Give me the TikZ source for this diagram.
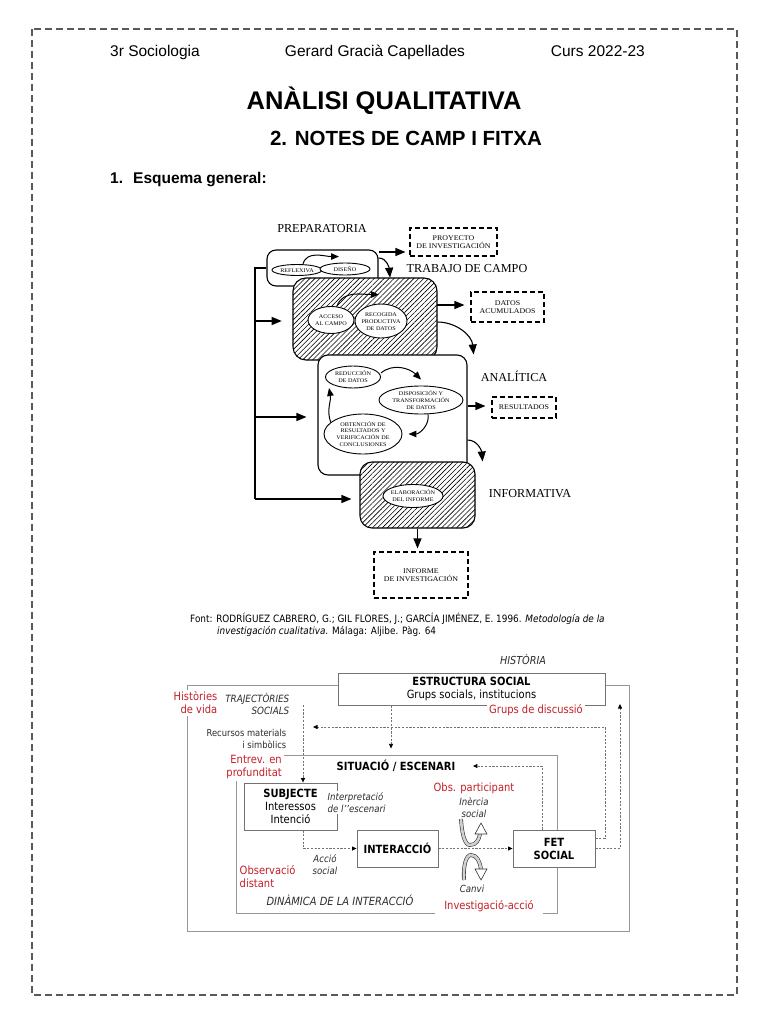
\documentclass[tikz,border=0pt]{standalone}
\usepackage{fontspec}
\setmainfont{Liberation Sans}
\newfontfamily\serf{Liberation Serif}
\newfontfamily\serw{Liberation Serif}[FakeStretch=1.1]
\newfontfamily\tah{DejaVu Sans}[FakeStretch=0.88]
\usetikzlibrary{arrows.meta,patterns.meta,shapes.geometric,calc}
\definecolor{redt}{RGB}{196,32,39}
\definecolor{frm}{RGB}{150,150,150}
\definecolor{dsh}{RGB}{115,115,115}
\definecolor{txtg}{RGB}{45,45,45}
\newcommand\ctext[1]{\smash{\makebox[0pt]{\raisebox{-0.45em}{\begin{tabular}{@{}c@{}}#1\end{tabular}}}}}
\tikzset{
  pagebord/.style={draw=black!65, line width=1.2pt, dash pattern=on 7pt off 4pt},
  hdr/.style={inner sep=0pt, font=\fontsize{15.5}{18}\selectfont},
  tline/.style={line width=1.1pt},
  tarr/.style={line width=1.1pt, -{Triangle[length=10pt,width=8pt]}},
  tarrs/.style={line width=1.0pt, -{Triangle[length=8pt,width=6.5pt]}},
  rbox/.style={draw, line width=1.1pt, rounded corners=10pt, fill=white, inner sep=0pt},
  hbox/.style={rbox, pattern={Lines[angle=45,distance=3.5pt,line width=0.6pt]}, preaction={fill=white}},
  ell/.style={ellipse, draw, line width=0.9pt, fill=white, inner sep=0pt, font=\serw\fontsize{5.6}{6.9}\selectfont},
  dbox/.style={draw, line width=1.1pt, dash pattern=on 5pt off 3pt, inner sep=0pt, align=center, font=\serw\fontsize{7.2}{8.5}\selectfont},
  stage/.style={inner sep=0pt, font=\serf\fontsize{12.2}{14}\selectfont},
  frame/.style={draw=frm, line width=0.9pt, inner sep=0pt},
  bbox/.style={draw=black!55, line width=0.9pt, fill=white, align=center, inner sep=0pt, font=\tah\fontsize{11.3}{13}\selectfont},
  btxt/.style={inner sep=1.5pt, font=\tah\fontsize{11.3}{13}\selectfont},
  itxt/.style={inner sep=1.5pt, text=txtg, font=\tah\itshape\fontsize{9.8}{12}\selectfont},
  rtxt/.style={inner sep=1.5pt, text=redt, fill=white, font=\tah\fontsize{11.3}{13}\selectfont},
  darr/.style={draw=dsh, line width=0.7pt, dash pattern=on 2.2pt off 1.5pt, -{Triangle[length=4.5pt,width=4pt,color=black]}},
  uarr/.style={line width=0.6pt, draw=black!80, double=black!18, double distance=2.6pt},
  uhead/.style={line width=0.6pt, draw=black!80, fill=white}
}
\begin{document}
\begin{tikzpicture}[x=1pt,y=-1pt]
\fill[white] (0,0) rectangle (768,1024);
\path[use as bounding box] (0,0) rectangle (768,1024);
\draw[pagebord] (32,29) rectangle (737,995);

% header
\node[hdr, anchor=base west] (h1) at (110,57) {3r Sociologia};
\node[hdr, anchor=base] (h2) at (375,57) {Gerard Gracià Capellades};
\node[hdr, anchor=base east] (h3) at (645,57) {Curs 2022-23};
\node[anchor=base, inner sep=0pt, font=\bfseries\fontsize{25.5}{30}\selectfont] (t1) at (384,110) {ANÀLISI QUALITATIVA};
\node[anchor=base, inner sep=0pt, font=\bfseries\fontsize{20.5}{24}\selectfont] (t2) at (406,146) {2. NOTES DE CAMP I FITXA};
\node[hdr, anchor=base west, font=\bfseries\fontsize{15.5}{18}\selectfont] (e1) at (110,184) {1.};
\node[hdr, anchor=base west, font=\bfseries\fontsize{15.5}{18}\selectfont] (e2) at (133,184) {Esquema general:};

% ---------- top diagram ----------
\node[stage] (lprep) at (322,229) {PREPARATORIA};
\node[rbox, rounded corners=9pt, minimum width=111pt, minimum height=36pt] (prep) at (322.5,268) {};
\node[dbox, minimum width=87pt, minimum height=28pt] (proy) at (453.5,242) {PROYECTO\\DE INVESTIGACIÓN};
\node[stage] (ltrab) at (467,269) {TRABAJO DE CAMPO};
\node[ell, minimum width=50pt, minimum height=11pt] (refl) at (297,270) {\ctext{REFLEXIVA}};
\node[ell, minimum width=50pt, minimum height=12pt] (dise) at (345,269) {\ctext{DISEÑO}};
\node[hbox, rounded corners=13pt, minimum width=144pt, minimum height=82pt] (trab) at (365,319) {};
\node[ell, minimum width=46pt, minimum height=27pt] (acc) at (331,320) {\ctext{ACCESO\\AL CAMPO}};
\node[ell, minimum width=52pt, minimum height=34pt] (rec) at (381,321) {\ctext{RECOGIDA\\PRODUCTIVA\\DE DATOS}};
\node[dbox, minimum width=73pt, minimum height=30pt] (datos) at (507.5,307) {DATOS\\ACUMULADOS};

\node[rbox, minimum width=149pt, minimum height=120pt] (anal) at (392.5,415) {};
\node[stage] (lanal) at (514,376) {ANALÍTICA};
\node[ell, minimum width=55pt, minimum height=22pt] (red) at (353,377) {\ctext{REDUCCIÓN\\DE DATOS}};
\node[ell, minimum width=84pt, minimum height=28pt] (disp) at (421,400) {\ctext{DISPOSICIÓN Y\\TRANSFORMACIÓN\\DE DATOS}};
\node[ell, minimum width=78pt, minimum height=40pt] (obt) at (363,434) {\ctext{OBTENCIÓN DE\\RESULTADOS Y\\VERIFICACIÓN DE\\CONCLUSIONES}};
\node[dbox, minimum width=64pt, minimum height=21pt] (res) at (524,407.5) {RESULTADOS};

\node[hbox, rounded corners=12pt, minimum width=115pt, minimum height=66pt] (info) at (417.5,495) {};
\node[ell, minimum width=60pt, minimum height=23pt] (elab) at (413,496) {\ctext{ELABORACIÓN\\DEL INFORME}};
\node[stage] (linfo) at (530,494) {INFORMATIVA};
\node[dbox, minimum width=94pt, minimum height=46pt] (inf) at (421,575) {INFORME\\DE INVESTIGACIÓN};

% top arrows
\draw[tarr, shorten >=4pt] ([yshift=16pt]prep.east) -- ([yshift=-10pt]proy.west);
\draw[tarr] ([yshift=10pt]prep.east) to[out=0,in=95] ([xshift=25pt]trab.north);
\draw[tarrs] ([xshift=6pt]refl.north) to[out=75,in=180] ([xshift=-6pt,yshift=6pt]dise.north);
\draw[tarrs] ([xshift=6pt]acc.north) to[out=70,in=180] ([xshift=-2pt,yshift=9pt]rec.north);
\draw[tarr, shorten >=6pt] ([yshift=14pt]trab.east) -- ([yshift=2pt]datos.west);
\draw[tarr] ([yshift=-3pt]trab.east) to[out=0,in=95] ([xshift=6pt]anal.north east);
\draw[tarrs] ([yshift=4pt]red.east) to[out=40,in=135] ([yshift=6pt]disp.north);
\draw[tarrs] ([xshift=7pt]disp.south) to[out=-80,in=0] ([xshift=6pt]obt.east);
\draw[tarrs] (obt.160) to[out=110,in=-80] ([xshift=4pt,yshift=-11pt]red.west);
\draw[tarr, shorten >=6pt] ([yshift=9pt]anal.east) -- ([yshift=1.5pt]res.west);
\draw[tarr] ([yshift=-25pt]anal.east) to[out=0,in=95] ([xshift=7pt]info.north east);
\draw[tarr, shorten >=3pt] (info.south) -- (info.south |- inf.north);

\coordinate (fb1) at (255,268);
\coordinate (fb2) at (255,321);
\coordinate (fb3) at (255,417);
\coordinate (fb4) at (255,499);
\draw[tline] (prep.west) -- (fb1) -- (fb4);
\draw[tarr, shorten >=11pt] (fb2) -- (fb2 -| trab.west);
\draw[tarr, shorten >=11pt] (fb3) -- (fb3 -| anal.west);
\draw[tarr, shorten >=8pt] (fb4) -- (fb4 -| info.west);

% citation
\node[anchor=base west, inner sep=0pt, font=\tah\fontsize{10.1}{12}\selectfont] (cit1) at (190,622) {Font: RODRÍGUEZ CABRERO, G.; GIL FLORES, J.; GARCÍA JIMÉNEZ, E. 1996. \textit{Metodología de la}};
\node[anchor=base west, inner sep=0pt, font=\tah\fontsize{10.1}{12}\selectfont] (cit2) at (217,634) {\textit{investigación cualitativa}. Málaga: Aljibe. Pàg. 64};

% ---------- bottom diagram ----------
\node[frame, minimum width=442pt, minimum height=246pt] (outer) at (408,808) {};
\node[frame, minimum width=321pt, minimum height=158pt] (inner) at (396.5,834) {};
\node[bbox, minimum width=267pt, minimum height=32pt] (est) at (471.5,689) {\textbf{ESTRUCTURA SOCIAL}\\Grups socials, institucions};
\node[itxt, font=\tah\itshape\fontsize{11}{13}\selectfont] (hist) at (523,659) {HISTÒRIA};

\node[bbox, minimum width=93pt, minimum height=47pt] (subj) at (290.5,806.5) {\textbf{SUBJECTE}\\Interessos\\Intenció};
\node[bbox, minimum width=81pt, minimum height=37pt] (inter) at (397.5,848.5) {\textbf{INTERACCIÓ}};
\node[bbox, minimum width=82pt, minimum height=37pt] (fet) at (554,848.5) {\textbf{FET}\\\textbf{SOCIAL}};
\node[btxt, font=\tah\bfseries\fontsize{11.3}{13}\selectfont] (sit) at (396,766) {SITUACIÓ / ESCENARI};

% dashed connectors
\coordinate (trajtop) at (303,705);
\draw[darr] (trajtop) -- (trajtop |- subj.north);
\draw[darr] ([xshift=-80.5pt]est.south) -- ++(0,43);
\coordinate (recR) at (605,727);
\coordinate (recTip) at (313,727);
\draw[darr] ([yshift=10pt]fet.east) -| (recR) -- (recTip);
\coordinate (histUp) at (620,704);
\draw[darr] (fet.east) -| (histUp);
\draw[darr] ([xshift=-12pt]fet.north) |- ([xshift=16pt]sit.east);
\draw[darr] ([xshift=12.5pt]subj.south) |- (inter.west);
\draw[darr] (inter.east) -- (fet.west);

% texts
\node[rtxt, anchor=east, align=right] (hv) at (219,703) {Històries\\de vida};
\node[itxt, anchor=east, align=right, font=\tah\itshape\fontsize{10}{12}\selectfont] (traj) at (291,704) {TRAJECTÒRIES\\SOCIALS};
\node[btxt, anchor=east, align=right, text=txtg, font=\tah\fontsize{9.5}{12}\selectfont] (recu) at (288,739) {Recursos materials\\i simbòlics};
\node[rtxt, anchor=east, align=right, inner sep=2pt] (entr) at (284,767.5) {Entrev. en\\profunditat};
\node[rtxt, anchor=east, inner sep=2pt] (gd) at (585,710) {Grups de discussió};
\node[itxt, anchor=west, align=left, fill=white] (interp) at (326,802.5) {Interpretació\\de l’’escenari};
\node[rtxt, fill=none] (obs) at (474,788) {Obs. participant};
\node[itxt, align=center] (iner) at (474,808) {Inèrcia\\social};
\node[itxt] (canvi) at (472,889) {Canvi};
\node[itxt, align=center] (acc2) at (325,865) {Acció\\social};
\node[rtxt, anchor=west, align=left, fill=none] (obsd) at (238,876.5) {Observació\\distant};
\node[itxt, font=\tah\itshape\fontsize{11.3}{13}\selectfont] (din) at (340,900) {DINÀMICA DE LA INTERACCIÓ};
\node[rtxt, inner xsep=9pt, inner ysep=3pt] (inv) at (489,906) {Investigació-acció};

% U-turn arrows
\draw[uarr] (461,819) .. controls (462,835) and (465,845) .. (470,845) .. controls (476,845) and (479,840) .. (480,834);
\draw[uhead] (475,834) -- (481,823) -- (487,834) -- cycle;
\draw[uarr] (464,880) .. controls (463,866) and (466,855) .. (471,855) .. controls (477,855) and (480,862) .. (481,869);
\draw[uhead] (475,869) -- (481,880) -- (487,869) -- cycle;
\end{tikzpicture}
\end{document}
